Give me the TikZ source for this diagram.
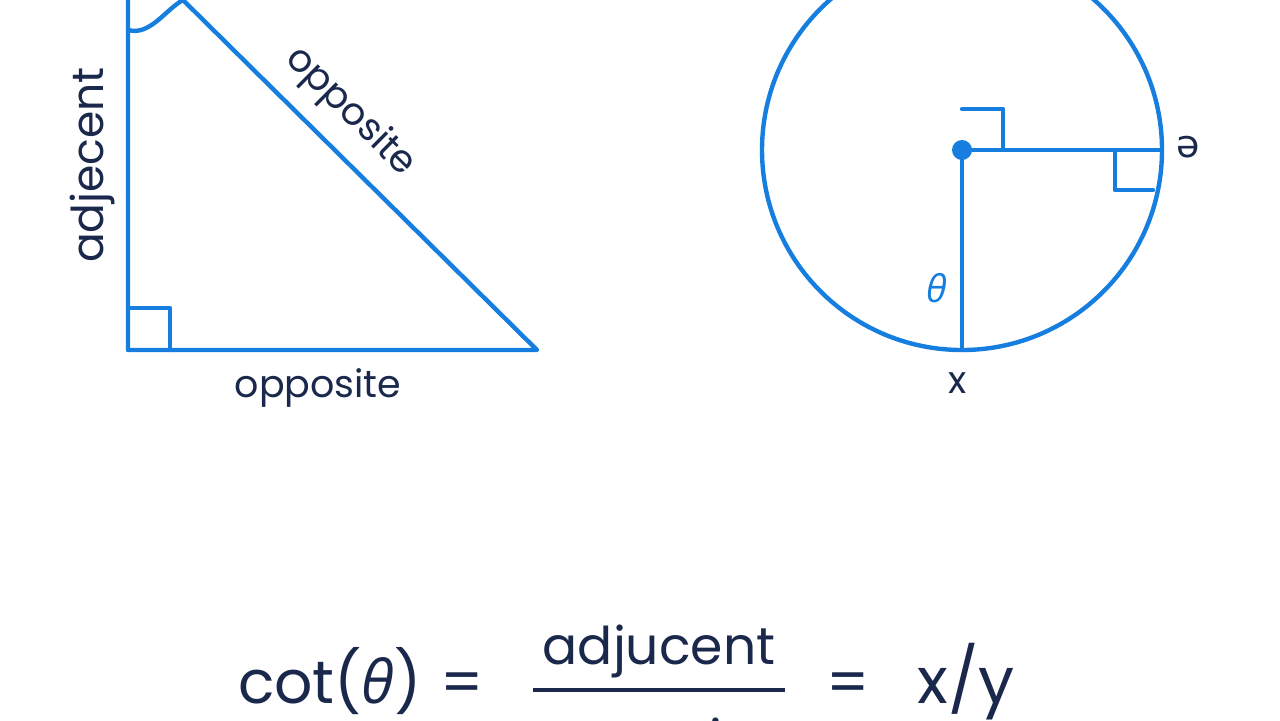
\documentclass[tikz,border=0pt]{standalone}
\usepackage{fontspec}
\setmainfont{Poppins}
\newfontfamily\greekfont{Open Sans}
\newfontfamily\schwafont{DejaVu Sans}
\definecolor{lineblue}{RGB}{22,126,222}
\definecolor{ink}{RGB}{26,40,76}
\tikzset{
  shapeline/.style = {draw=lineblue, line width=2.2pt, line join=round, line cap=round},
  labeltext/.style = {text=ink, inner sep=0pt, font=\fontsize{19}{22}\selectfont},
  formulatext/.style = {text=ink, inner sep=0pt, font=\fontsize{30}{36}\selectfont}
}

\begin{document}
\begin{tikzpicture}[x=0.5pt,y=-0.5pt]
  \useasboundingbox (0,0) rectangle (1280,720);
  \clip (0,0) rectangle (1280,720);
  \def\CircleRadius{200}
  % triangle
  \coordinate (top) at (128,-20);
  \coordinate (corner) at (128,350);
  \coordinate (tip) at (537,350);
  \coordinate (apex) at (183,0);
  \draw[shapeline] (top) -- (corner) -- (tip) -- (apex);
  \draw[shapeline] (128,30) .. controls (150,36) and (165,10) .. (apex);
  \draw[shapeline] (128,308) -- (170,308) -- (170,350); % right angle
  \node[labeltext,font=\fontsize{22}{26}\selectfont,rotate=90] (adj) at (92,165) {adjecent};
  \node[labeltext,rotate=-44.7] (opp1) at (350,112) {opposite};
  \node[labeltext] (opp2) at (318,388) {opposite};
  % circle
  \coordinate (centre) at (962,150);
  \draw[shapeline] (centre) circle (\CircleRadius);
  \coordinate (east) at (1160,150);
  \coordinate (south) at (962,350);
  \draw[shapeline] (centre) -- (east) (centre) -- (south);
  \draw[shapeline] (962,109) -- (1003,109) -- (1003,150); % top mark
  \draw[shapeline] (1115,150) -- (1115,190) -- (1153,190); % right angle
  \fill[lineblue] (centre) circle (10);
  \node[labeltext] (a) at (1188,147) {\schwafont ə};
  \node[labeltext,text=lineblue] (theta) at (937,288) {\greekfont\itshape θ};
  \node[labeltext] (x) at (958,383) {x};
  % formula
  \node[formulatext,anchor=base] (cot) at (330,703) {cot(\greekfont\itshape θ\upshape\rmfamily)};
  \node[formulatext,anchor=base] (eq1) at (462,703) {=};
  \node[formulatext,font=\fontsize{26}{30}\selectfont,anchor=base] (num) at (659,664) {adjucent};
  \draw[draw=ink,line width=2.2pt] (533,690) -- (785,690);
  \node[formulatext,font=\fontsize{26}{30}\selectfont,anchor=base] (den) at (659,757) {opposite};
  \node[formulatext,anchor=base] (eq2) at (848,703) {=};
  \node[formulatext,font=\fontsize{32}{36}\selectfont,anchor=base] (xy) at (966,703) {x/y};
\end{tikzpicture}
\end{document}
